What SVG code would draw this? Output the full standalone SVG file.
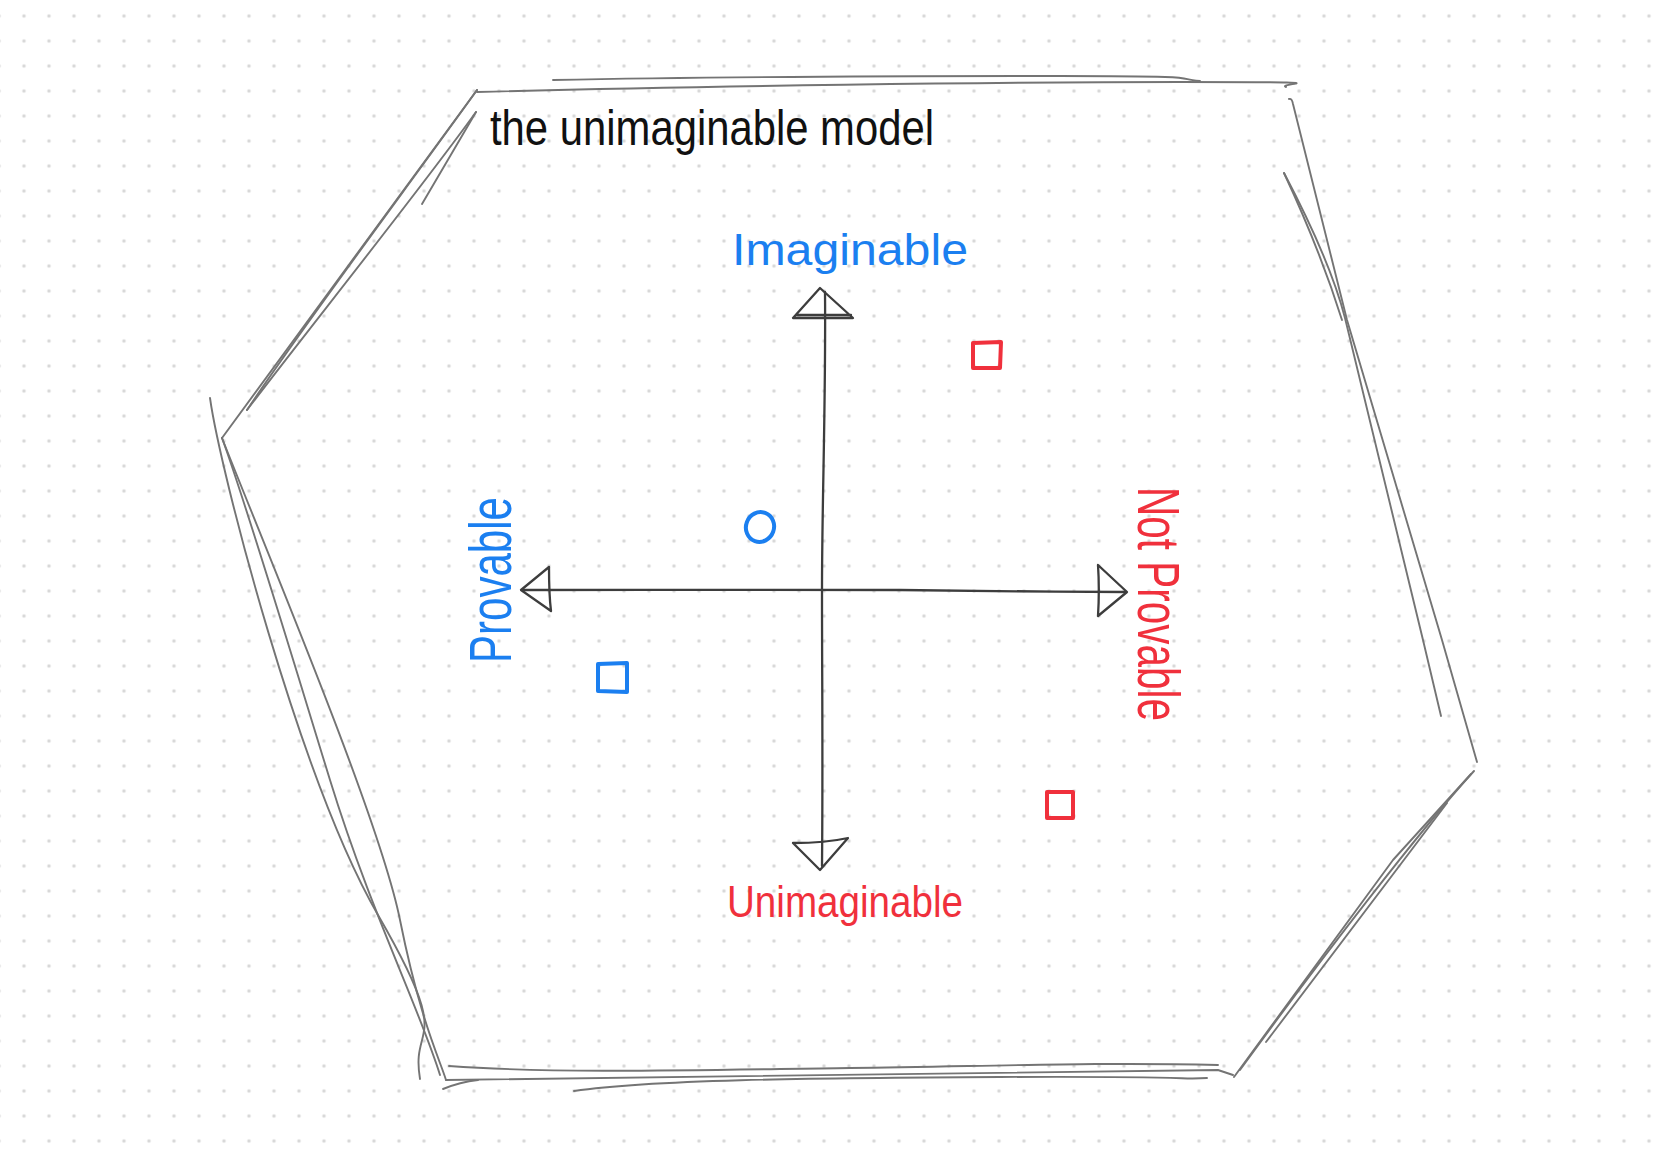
<svg xmlns="http://www.w3.org/2000/svg" width="1668" height="1155" viewBox="0 0 1668 1155">
  <defs>
    <pattern id="dots" patternUnits="userSpaceOnUse" x="11.5" y="3.5" width="25" height="25">
      <circle cx="12.5" cy="12.5" r="1.7" fill="#d6d6d6"/>
    </pattern>
    <style>
      .hex{fill:none;stroke:#747474;stroke-width:1.9;stroke-linecap:round;stroke-linejoin:round}
      .axis{fill:none;stroke:#3d3d3d;stroke-width:2.3;stroke-linecap:round;stroke-linejoin:round}
      .lbl{font-family:"Liberation Sans","DejaVu Sans",sans-serif}
      .blue{fill:#1b7ff0}
      .red{fill:#f0303c}
      .bmark{fill:none;stroke:#1b7ff0;stroke-width:4;stroke-linecap:round;stroke-linejoin:round}
      .rmark{fill:none;stroke:#f0303c;stroke-width:4;stroke-linecap:round;stroke-linejoin:round}
    </style>
  </defs>
  <rect width="1668" height="1155" fill="#ffffff"/>
  <rect width="1668" height="1155" fill="url(#dots)"/>

  <g id="frame">
    <path class="hex" d="M477,92 C700,86 1000,82 1180,82 S1275,83 1286,87"/>
    <path class="hex" d="M553,80 C700,77 900,76 1060,76 S1170,79 1200,81"/>
    <path class="hex" d="M1289,99 Q1292,98 1293,104 L1347,320 L1442,640 L1477,762"/>
    <path class="hex" d="M1284,173 Q1330,260 1345,318 L1423,640 L1441,716"/>
    <path class="hex" d="M1284,173 Q1320,250 1342,320"/>
    <path class="hex" d="M1471,774 L1393,860 L1234,1077"/>
    <path class="hex" d="M1474,771 C1420,830 1320,960 1240,1070"/>
    <path class="hex" d="M1447,803 L1266,1042"/>
    <path class="hex" d="M449,1066 C560,1074 700,1070 850,1068 S1100,1062 1218,1065"/>
    <path class="hex" d="M446,1080 C600,1078 900,1072 1218,1070 L1233,1075"/>
    <path class="hex" d="M574,1091 C650,1080 800,1078 1000,1077 S1180,1080 1207,1078"/>
    <path class="hex" d="M443,1089 Q460,1082 478,1080"/>
    <path class="hex" d="M210,398 C220,470 300,780 378,915 S410,1020 420,1079"/>
    <path class="hex" d="M222,438 C270,560 380,820 400,920 S440,1060 446,1080"/>
    <path class="hex" d="M222,438 C245,500 290,650 330,780 S420,1010 440,1075"/>
    <path class="hex" d="M477,90 L222,438"/>
    <path class="hex" d="M477,90 C420,170 300,330 247,410"/>
    <path class="hex" d="M476,112 C420,190 300,340 247,410"/>
    <path class="hex" d="M476,112 L422,204"/>
  </g>

  <g id="connectors">
    <path class="axis" d="M825,292 C826,400 822,500 822,590 S823,760 822,866"/>
    <path class="axis" d="M523,590 C650,590 800,589 900,590 S1050,592 1125,592"/>
    <path class="axis" d="M793,318 L820,288 L853,318 Z M796,315 L851,315"/>
    <path class="axis" d="M793,843 L820,870 L848,838 C830,842 810,843 793,843 Z"/>
    <path class="axis" d="M549,567 L521,590 L551,611 C549,595 549,580 549,567 Z"/>
    <path class="axis" d="M1098,565 L1127,592 L1098,616 C1099,600 1099,580 1098,565 Z"/>
  </g>

  <g id="title">
    <text class="lbl" x="490" y="145" font-size="50" fill="#111" textLength="444" lengthAdjust="spacingAndGlyphs">the unimaginable model</text>
  </g>
  <g id="imaginable">
    <text class="lbl blue" x="732" y="265" font-size="44" textLength="236" lengthAdjust="spacingAndGlyphs">Imaginable</text>
  </g>
  <g id="unimaginable">
    <text class="lbl red" x="727" y="917" font-size="44" textLength="236" lengthAdjust="spacingAndGlyphs">Unimaginable</text>
  </g>
  <g id="provable">
    <text class="lbl blue" transform="translate(511,580) rotate(-90)" x="0" y="0" text-anchor="middle" font-size="60" textLength="166" lengthAdjust="spacingAndGlyphs">Provable</text>
  </g>
  <g id="not-provable">
    <text class="lbl red" transform="translate(1138,604) rotate(90)" x="0" y="0" text-anchor="middle" font-size="60" textLength="234" lengthAdjust="spacingAndGlyphs">Not Provable</text>
  </g>

  <g id="mark-red-top">
    <path class="rmark" d="M973,343 L1001,342 L1000,368 L973,368 Z"/>
  </g>
  <g id="mark-blue-circle">
    <ellipse class="bmark" cx="760" cy="527" rx="14" ry="15" transform="rotate(20 760 527)"/>
  </g>
  <g id="mark-blue-square">
    <path class="bmark" d="M598,664 L627,663 L627,692 L598,691 Z"/>
  </g>
  <g id="mark-red-bottom">
    <path class="rmark" d="M1047,792 L1073,792 L1073,818 L1047,818 Z"/>
  </g>
</svg>
